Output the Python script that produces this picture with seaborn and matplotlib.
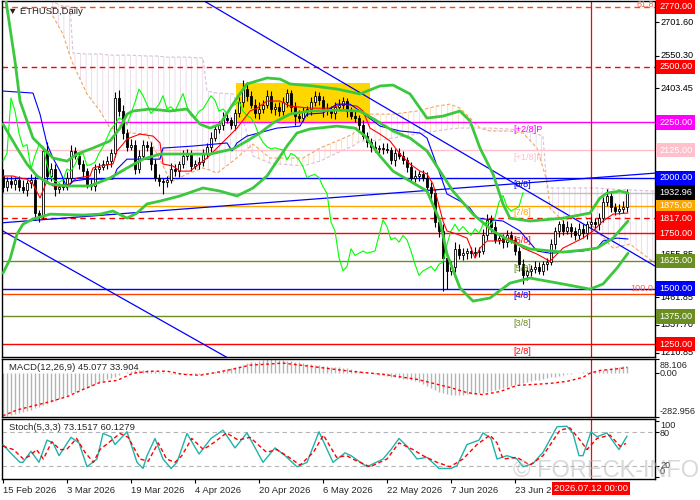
import numpy as np
import pandas as pd
import matplotlib
matplotlib.use('Agg')
import matplotlib.pyplot as plt
import matplotlib.transforms as mtransforms
from matplotlib.patches import Rectangle
import seaborn as sns

sns.set_style('white')
plt.rcParams['font.family'] = ['Liberation Sans', 'DejaVu Sans']
plt.rcParams['hatch.linewidth'] = 0.5

# ---- price data (daily ETHUSD, day 0 = 15 Feb 2026) ----
start_date = pd.Timestamp('2026-02-15')
first_open = 2010
closes = [1960, 1985, 1970, 1990, 1960, 1945, 1975, 1990, 1840, 1830,
          2120, 2010, 2040, 1950, 1960, 1970, 2000, 2120, 2100, 2060,
          2030, 1970, 1965, 2040, 2050, 2060, 2075, 2110, 2360, 2300,
          2200, 2140, 2150, 2040, 2100, 2150, 2140, 2060, 2000, 1985,
          1980, 1990, 2040, 2030, 2060, 2100, 2110, 2055, 2060, 2070,
          2110, 2140, 2180, 2220, 2240, 2270, 2260, 2240, 2290, 2340,
          2400, 2370, 2330, 2290, 2310, 2330, 2370, 2310, 2320, 2300,
          2340, 2380, 2320, 2280, 2270, 2300, 2310, 2340, 2370, 2350,
          2300, 2310, 2290, 2320, 2330, 2345, 2300, 2280, 2270, 2240,
          2190, 2160, 2140, 2130, 2135, 2130, 2125, 2080, 2110, 2100,
          2080, 2050, 2000, 2010, 2015, 2000, 1960, 1930, 1800, 1760,
          1640, 1580, 1600, 1680, 1650, 1660, 1670, 1660, 1665, 1670,
          1740, 1810, 1780, 1720, 1730, 1710, 1740, 1720, 1670, 1610,
          1560, 1580, 1590, 1600, 1580, 1610, 1620, 1700, 1760, 1790,
          1760, 1780, 1760, 1740, 1770, 1750, 1790, 1800, 1790, 1820,
          1890, 1920, 1870, 1850, 1860, 1870, 1933]
wick_up = [30, 20, 25, 15, 20, 30, 15, 25, 20, 15,
           20, 40, 25, 20, 15, 20, 25, 30, 20, 15,
           20, 15, 25, 20, 15, 20, 25, 20, 25, 35,
           30, 20, 25, 20, 25, 20, 15, 20, 25, 15,
           15, 20, 25, 20, 15, 25, 20, 15, 20, 25,
           20, 15, 25, 20, 15, 25, 20, 15, 20, 25,
           40, 30, 20, 25, 30, 20, 25, 20, 15, 20,
           25, 20, 15, 20, 25, 20, 15, 25, 20, 15,
           20, 25, 15, 20, 25, 20, 15, 20, 25, 15,
           20, 15, 20, 25, 15, 20, 25, 15, 20, 25,
           20, 15, 20, 25, 15, 20, 25, 20, 20, 15,
           30, 20, 25, 30, 20, 25, 15, 20, 25, 20,
           30, 25, 20, 25, 20, 15, 25, 20, 15, 20,
           25, 20, 15, 25, 20, 15, 20, 25, 20, 15,
           20, 25, 15, 20, 25, 20, 15, 25, 20, 20,
           25, 30, 20, 15, 20, 25, 15]
wick_dn = [25, 20, 15, 25, 20, 15, 25, 20, 30, 30,
           15, 20, 25, 30, 20, 15, 25, 20, 15, 20,
           25, 15, 20, 25, 20, 15, 20, 25, 15, 20,
           25, 20, 15, 25, 20, 15, 20, 25, 15, 20,
           55, 20, 15, 20, 25, 15, 20, 25, 15, 20,
           15, 20, 25, 15, 20, 25, 15, 20, 25, 15,
           20, 25, 15, 20, 25, 20, 15, 20, 25, 20,
           15, 20, 25, 40, 20, 15, 20, 25, 15, 20,
           25, 15, 20, 25, 15, 20, 25, 15, 20, 25,
           15, 20, 25, 15, 20, 25, 15, 20, 25, 15,
           20, 25, 15, 20, 25, 15, 20, 25, 20, 25,
           150, 80, 20, 25, 15, 20, 25, 20, 15, 20,
           15, 20, 25, 15, 20, 25, 20, 15, 20, 30,
           40, 20, 25, 20, 15, 20, 25, 15, 20, 25,
           20, 15, 25, 20, 15, 20, 25, 15, 20, 25,
           20, 15, 25, 20, 15, 20, 25]

# ---- Bollinger bands (day, price) ----
bb_up_days = [0, 3, 4.25, 7.5, 10, 12.5, 16, 18.5, 22.5, 26.75, 29.25, 31, 32.5, 36.75, 41.75,
              46, 49.25, 51.75, 54.25, 58.5, 61, 66, 69.25, 71.75, 77.5, 83.5, 89.25, 94.25,
              97.5, 101.75, 106, 110, 114.25, 116.75, 119.25, 122.5, 125, 126.75, 131.75, 140,
              146.75, 149.25, 151, 154.25, 156.25]
bb_up = [2887, 2526, 2346, 2179, 2134, 2089, 2075, 2107, 2134, 2166, 2224, 2287, 2301, 2310, 2301,
         2310, 2242, 2224, 2242, 2360, 2423, 2450, 2445, 2423, 2414, 2400, 2378, 2414,
         2418, 2378, 2269, 2278, 2301, 2256, 2134, 2017, 1882, 1818, 1805, 1818,
         1841, 1909, 1931, 1940, 1931]
bb_mid_days = [0, 3.5, 6, 8.5, 11.75, 16, 21.75, 26.75, 31, 35, 39.25, 44.25, 51.75, 57.5, 61,
               64.25, 67.5, 71.75, 76.75, 83.5, 89.25, 93.5, 97.5, 101.75, 106, 109.25, 112.5,
               117.5, 122.5, 126.75, 131.75, 140, 145, 148.5, 152.5, 156.25]
bb_mid = [2242, 2134, 2062, 2008, 1972, 1963, 1963, 1999, 2044, 2084, 2107, 2107, 2107, 2130, 2166,
          2202, 2247, 2287, 2301, 2305, 2301, 2256, 2211, 2179, 2121, 2030, 1940,
          1836, 1760, 1715, 1679, 1665, 1674, 1683, 1728, 1805]
bb_lo_days = [0, 1.75, 3.5, 5, 7.5, 11.75, 20, 24.25, 27.5, 31, 33.5, 36, 39.25, 44.25, 50,
              54.25, 58.5, 62.5, 66, 68.5, 71, 73.5, 76.75, 83.5, 88, 90.5, 94.25, 97.5, 101.75,
              106, 109.25, 111, 114.25, 117.5, 121.75, 126.75, 131.75, 140, 146.75, 150, 153.5, 156.25]
bb_lo = [1570, 1633, 1746, 1791, 1814, 1836, 1832, 1836, 1850, 1818, 1841, 1882, 1895, 1918, 1954,
         1940, 1918, 1954, 2008, 2075, 2143, 2202, 2220, 2233, 2224, 2188, 2098, 2030, 1985,
         1940, 1805, 1656, 1503, 1444, 1458, 1525, 1548, 1521, 1498, 1521, 1593, 1660]

# ---- Ichimoku ----
tenkan_days = [0, 2.5, 4.25, 6, 7.5, 9.25, 11, 12.5, 16, 18.5, 21.75, 22.5, 24.25, 27.5, 28.5,
               30, 31, 34.25, 37.5, 39.25, 40, 42.5, 44.25, 46.75, 51, 53.5, 56, 58.5, 61.75, 63.5,
               66, 69.25, 71.75, 76.75, 81.75, 85, 88.5, 90, 91.75, 94.25, 96.75, 99.25, 101.75,
               104.25, 106, 107.5, 108.5, 110, 111, 113.5, 116, 118, 119.25, 121, 124.25, 126.75,
               130, 133.5, 136.75, 140, 145, 147.5, 150, 152.5, 156.25]
tenkan = [2008, 2008, 1999, 1994, 1972, 1909, 1985, 1963, 1963, 1999, 2008, 2044, 2053, 2062, 2121,
          2152, 2175, 2197, 2188, 2157, 2062, 2053, 2030, 2030, 2089, 2134, 2179, 2224, 2301, 2314,
          2346, 2346, 2323, 2314, 2314, 2332, 2323, 2301, 2224, 2197, 2166, 2107, 2062,
          2030, 2017, 1972, 1909, 1805, 1760, 1746, 1728, 1638, 1683, 1715, 1715, 1728,
          1683, 1656, 1624, 1683, 1728, 1760, 1805, 1836, 1841]
kijun_days = [0, 7.5, 9.25, 11, 12.5, 14.25, 16, 17.5, 21, 27.5, 28.5, 31, 39.25, 40, 47.5, 56,
              57.25, 58.5, 61, 68.5, 74.25, 76, 80, 83.5, 86.75, 89.25, 94.25, 99.25, 104.25, 106,
              109.25, 111, 114.25, 116.75, 118.5, 125, 129.25, 133.5, 136.75, 145, 148.5, 150,
              153.5, 156.25]
kijun = [2391, 2382, 2287, 2152, 2089, 2030, 1954, 1985, 1994, 1994, 2039, 2084, 2084, 2134, 2143, 2157,
         2121, 2157, 2188, 2224, 2233, 2287, 2292, 2332, 2332, 2301, 2233, 2211, 2202, 2179,
         2017, 1927, 1895, 1863, 1818, 1805, 1760, 1670, 1660, 1670, 1683, 1715,
         1728, 1724]
chikou_shift = 26
kumo_days = [11.75, 15, 16.75, 17.5, 21, 24.25, 26.75, 31.75, 36, 38.5, 41, 42.5, 46, 50, 51, 53.5,
             57.5, 60.5, 62.5, 66.75, 75, 79.25, 83.5, 87.5, 89.25, 91.75, 97.5, 103.5, 108.5,
             111.75, 114.25, 116.75, 119.25, 121.75, 126.75, 130, 133.5, 135, 136, 136.75, 140,
             145, 148.5, 152.5, 156.75, 163]
kumo_a = [2752, 2648, 2549, 2513, 2378, 2301, 2224, 2202, 2197, 2107, 2017, 1985, 2017, 2044, 2039, 2021,
          2075, 2121, 2152, 2089, 2089, 2134, 2166, 2197, 2256, 2287, 2287, 2301, 2323,
          2332, 2314, 2269, 2224, 2211, 2211, 2202, 2134, 2044, 1985, 1863, 1805,
          1836, 1760, 1683, 1701, 1615]
kumo_b = [2797, 2774, 2774, 2562, 2558, 2558, 2553, 2553, 2549, 2549, 2544, 2544, 2544, 2540, 2391, 2382,
          2378, 2233, 2098, 2066, 2053, 2075, 2112, 2143, 2166, 2166, 2179, 2197, 2211,
          2220, 2224, 2224, 2224, 2224, 2220, 2211, 2197, 2188, 1954, 1954, 1954,
          1954, 1954, 1949, 1945, 1940]

# ---- trend lines, consolidation box, levels ----
trend_down_days = [50, 163]
trend_down = [2800, 1602]
trend_low_days = [-1, 56]
trend_low = [1770, 1190]
trend_up_days = [-1, 163]
trend_up = [1796, 2021]
box_days = [58.25, 91.75]
box_prices = [2247, 2427]
levels = [2770, 2500, 2250, 2125, 2000, 1875, 1817, 1750, 1625, 1500, 1375, 1250]
fib_100 = 1476
last_price = 1932.96
murrey_levels = [2250, 2125, 2000, 1875, 1750, 1625, 1500, 1375, 1250]
murrey_names = ['[+2/8]P', '[+1/8]P', '[8/8]', '[7/8]', '[6/8]', '[5/8]', '[4/8]', '[3/8]', '[2/8]']
axis_ticks = [2701.60, 2550.30, 2403.45, 2254.40, 2105.30, 1954.80, 1807.15, 1655.85,
              1461.85, 1337.70, 1210.85]

# ---- MACD ----
macd_hist = [-280, -275, -270, -265, -260, -252, -244, -236, -226, -216,
             -207, -198, -190, -178, -166, -153, -140, -131, -122, -113,
             -105, -95, -82, -70, -60, -50, -41, -33, -25, -14,
             -4, 5, 12, 17, 20, 18, 15, 14, 12, 8,
             3, -3, -6, -8, -10, -9, -8, -7, -9, -10,
             -8, -5, 0, 6, 12, 18, 24, 30, 37, 44,
             52, 60, 66, 72, 77, 81, 85, 88, 86, 84,
             82, 78, 75, 70, 66, 62, 58, 55, 51, 48,
             45, 42, 40, 37, 34, 31, 28, 24, 19, 14,
             8, 2, -4, -9, -13, -17, -21, -25, -29, -33,
             -38, -42, -47, -55, -62, -72, -85, -98, -110, -120,
             -130, -137, -141, -143, -143, -141, -139, -136, -133, -130,
             -127, -122, -118, -113, -107, -100, -92, -85, -77, -70,
             -63, -57, -53, -49, -44, -38, -33, -28, -24, -20,
             -15, -10, -6, -3, 0, 3, 6, 9, 12, 15,
             20, 25, 30, 34, 38, 42, 45]
sig_days = [0, 3.5, 7.5, 11.75, 16, 20, 24.25, 28.5, 32.5, 36.75, 41, 45, 49.25, 53.5, 57.5,
            61.75, 66, 70, 74.25, 78.5, 86.75, 95, 103.5, 111.75, 116, 120, 124.25, 128.5,
            132.5, 136.75, 141, 145, 146.75, 149.25, 153.5, 156]
macd_sig = [-275, -238, -212, -185, -153, -107, -62, -49, -3, 10, 10, -10, -16, 3, 23,
            49, 55, 62, 49, 36, 10, -10, -42, -94, -127, -140, -120, -81,
            -75, -68, -55, -29, -3, 15, 25, 33.9]

# ---- Stochastic ----
k_days = [0, 1.75, 4.25, 5, 7, 9, 11, 12.5, 14, 17, 19, 21, 23.5, 25, 27, 28, 31, 33.5, 35, 36,
          38, 40, 42, 43.5, 46, 49, 52, 55, 58, 61, 65, 68, 70.5, 73.5, 76, 79, 82.5, 85.5, 87,
          91, 95, 97, 99, 101, 103.5, 106, 109, 112, 113.5, 116, 119, 120, 122, 123.5, 126,
          128.5, 130, 132.5, 135, 138.5, 141, 142.5, 144, 145, 147, 148.5, 151, 154, 156]
stoch_k = [58, 44, 26, 26, 46, 26, 66, 61, 38, 71, 61, 18, 32, 78, 72, 58, 81, 26, 15, 38,
           69, 32, 15, 26, 78, 41, 69, 84, 52, 79, 26, 52, 38, 18, 26, 81, 26, 43, 38,
           18, 32, 49, 69, 55, 32, 35, 15, 15, 20, 58, 66, 79, 69, 32, 38,
           32, 18, 24, 44, 90, 91, 78, 38, 38, 81, 72, 79, 49, 73.15]
d_days = [0, 2.6, 5.1, 6.75, 8.4, 10.1, 12.2, 14.25, 15.9, 18.4, 20.5, 22.6, 24.25, 27.2, 29.25,
          31.3, 34.25, 36.3, 38.8, 40.9, 43, 44.7, 47.2, 50.1, 52.6, 55.9, 58.8, 61.75, 65.9,
          68.4, 70.9, 74.25, 77.6, 80.1, 83.4, 85.9, 88, 91.75, 96, 99, 102.5, 105, 108.5,
          111.75, 115, 118.5, 121.75, 123.5, 125, 128.5, 131.75, 135, 139.25, 141.75, 144.25,
          146, 148.5, 151.75, 154.25, 155.75]
stoch_d = [55, 49, 32, 38, 49, 32, 63, 49, 49, 69, 44, 26, 49, 66, 78,
           71, 32, 28, 61, 32, 26, 38, 69, 49, 61, 79, 66, 71, 44,
           49, 38, 21, 44, 75, 35, 38, 30, 18, 32, 61, 49, 38, 26,
           18, 32, 58, 75, 61, 32, 35, 21, 38, 84, 88, 66,
           49, 69, 75, 55, 60.13]

date_ticks = ['2026-02-15', '2026-03-03', '2026-03-19', '2026-04-04', '2026-04-20',
              '2026-05-06', '2026-05-22', '2026-06-07', '2026-06-23']
cursor_date = '2026-07-12'

# ---- figure layout (pixel boxes like the terminal window) ----
W, H = 700, 500
fig = plt.figure(figsize=(7, 5), dpi=100)


def px_axes(x0, y0, x1, y1):
    return fig.add_axes([x0 / W, 1 - y1 / H, (x1 - x0) / W, (y1 - y0) / H])


ax = px_axes(2, 1, 655, 357)
ax_macd = px_axes(2, 359, 655, 417)
ax_st = px_axes(2, 419, 655, 479)
for a in (ax, ax_macd, ax_st):
    a.set_xlim(-0.25, 163)
    for s in a.spines.values():
        s.set_color('black')
        s.set_linewidth(1)
    a.tick_params(axis='y', left=False, right=True, labelleft=False, labelright=False,
                  direction='out', length=3, width=0.8, color='black')
    a.tick_params(axis='x', bottom=False, labelbottom=False)
ax.set_ylim(1192, 2797)
ax_macd.set_ylim(-282.956, 88.106)
ax_st.set_ylim(-4, 104)

days = np.arange(len(closes))
cl = np.array(closes, dtype=float)
op = np.r_[first_open, cl[:-1]]
hi = np.maximum(op, cl) + np.array(wick_up)
lo = np.minimum(op, cl) - np.array(wick_dn)
bull = cl >= op
cursor_day = (pd.Timestamp(cursor_date) - start_date).days

# background pieces
ax.add_patch(Rectangle((box_days[0], box_prices[0]), box_days[1] - box_days[0],
                       box_prices[1] - box_prices[0], fc='#ffd700', ec='none', zorder=1.6))
kx = np.array(kumo_days)
ka = np.array(kumo_a, dtype=float)
kb = np.array(kumo_b, dtype=float)
ax.fill_between(kx, ka, kb, where=kb >= ka, interpolate=True, facecolor='none',
                edgecolor='#e4cfe4', hatch='|||', linewidth=0, zorder=1.2)
ax.fill_between(kx, ka, kb, where=ka > kb, interpolate=True, facecolor='none',
                edgecolor='#f7d2b4', hatch='|||', linewidth=0, zorder=1.2)
sns.lineplot(x=kx, y=ka, ax=ax, color='#f4a460', lw=0.8, linestyle=(0, (3, 2)), zorder=1.3)
sns.lineplot(x=kx, y=kb, ax=ax, color='#d8bfd8', lw=0.8, linestyle=(0, (3, 2)), zorder=1.3)

# horizontal levels
level_style = {2770: ('#ff4500', '--', '#ff0000'), 2500: ('#ff0000', '--', '#ff0000'),
               2250: ('#ff00ff', '-', '#ff00ff'), 2125: ('#ffc0cb', '-', '#ffc0cb'),
               2000: ('#0000ff', '-', '#0000ff'), 1875: ('#ffa500', '-', '#ffa500'),
               1817: ('#ff0000', '--', '#ff0000'), 1750: ('#ff0000', '-', '#ff0000'),
               1625: ('#6b8e23', '-', '#6b8e23'), 1500: ('#0000ff', '-', '#0000ff'),
               1375: ('#6b8e23', '-', '#6b8e23'), 1250: ('#ff0000', '-', '#ff0000')}
for lv in levels:
    c, ls, _ = level_style[lv]
    ax.axhline(lv, color=c, lw=1, linestyle=(0, (4, 3)) if ls == '--' else '-', zorder=2)
ax.axhline(fib_100, color='#ff4500', lw=1, zorder=2)
ax.axhline(last_price, color='#c0c0c0', lw=1, zorder=2)
ax.axvline(cursor_day, color='#ff0000', lw=0.9, zorder=2.1)

# trend lines
for tx, ty in ((trend_down_days, trend_down), (trend_low_days, trend_low), (trend_up_days, trend_up)):
    sns.lineplot(x=tx, y=ty, ax=ax, color='#0000ff', lw=0.9, zorder=2.2)

# candles
ax.vlines(days, lo, hi, color='black', lw=0.8, zorder=3)
ax.bar(days, np.maximum(np.abs(cl - op), 4), bottom=np.minimum(op, cl), width=0.72,
       color=np.where(bull, 'white', 'black'), edgecolor='black', linewidth=0.6, zorder=3.1)

# ichimoku lines and bollinger bands
sns.lineplot(x=days[:-chikou_shift], y=cl[chikou_shift:], ax=ax, color='#00ff00', lw=0.8, zorder=3.5)
sns.lineplot(x=tenkan_days, y=tenkan, ax=ax, color='#ff0000', lw=0.8, zorder=3.6)
sns.lineplot(x=kijun_days, y=kijun, ax=ax, color='#0000ff', lw=0.8, zorder=3.6)
for bx, by in ((bb_up_days, bb_up), (bb_mid_days, bb_mid), (bb_lo_days, bb_lo)):
    sns.lineplot(x=bx, y=by, ax=ax, color='#3cc83c', lw=2.0, zorder=4)

# level texts
for lv, name in zip(murrey_levels, murrey_names):
    ax.text(127.5, lv - 12, name, color=level_style[lv][2], fontsize=6.6, va='top', ha='left', zorder=5)
ax.text(158.3, 2781, '61.8', color='#ff6347', fontsize=6.4, va='center', ha='left', zorder=5)
ax.text(156.8, fib_100 + 3, '100.0', color='#ff6347', fontsize=6.6, va='bottom', ha='left', zorder=5)
ax.text(6 / 653, 1 - 10 / 356, '\u25bc ETHUSD,Daily', transform=ax.transAxes, fontsize=6.8,
        va='center', ha='left', color='#222222', zorder=6)

# right price scale
tr = mtransforms.blended_transform_factory(ax.transAxes, ax.transData)
ax.set_yticks(axis_ticks)
for t in axis_ticks:
    ax.text(1 + 5 / 653, t, f'{t:.2f}', transform=tr, fontsize=6.6, va='center', ha='left',
            color='black', clip_on=False, zorder=6)
for lv in levels:
    ax.text(1 + 4 / 653, lv, f'{lv:.2f}', transform=tr, fontsize=6.6, va='center', ha='left',
            color='white', clip_on=False, zorder=7,
            bbox=dict(boxstyle='square,pad=0.3', fc=level_style[lv][2], ec='none'))
ax.text(1 + 4 / 653, last_price, f'{last_price:.2f}', transform=tr, fontsize=6.6, va='center',
        ha='left', color='white', clip_on=False, zorder=7,
        bbox=dict(boxstyle='square,pad=0.3', fc='black', ec='none'))

# MACD panel
ax_macd.vlines(days, 0, macd_hist, color='#b4b4b4', lw=1, zorder=2)
sns.lineplot(x=sig_days, y=macd_sig, ax=ax_macd, color='#ff0000', lw=1, linestyle=(0, (2, 2)), zorder=3)
ax_macd.axvline(cursor_day, color='#ff0000', lw=0.9, zorder=2.1)
ax_macd.text(7 / 653, 1 - 9 / 58, 'MACD(12,26,9) 45.077 33.904', transform=ax_macd.transAxes,
             fontsize=6.8, va='center', ha='left')
ax_macd.set_yticks([88.106, 0, -282.956])
for txt, ypx in (('88.106', 7), ('0.00', 15), ('-282.956', 52)):
    ax_macd.text(1 + 5 / 653, 1 - ypx / 58, txt, transform=ax_macd.transAxes, fontsize=6.6,
                 va='center', ha='left', clip_on=False)

# Stochastic panel
for lvl in (80, 20):
    ax_st.axhline(lvl, color='#b4b4b4', lw=0.8, linestyle=(0, (4, 3)), zorder=1)
sns.lineplot(x=k_days, y=stoch_k, ax=ax_st, color='#20b2aa', lw=1, zorder=3)
sns.lineplot(x=d_days, y=stoch_d, ax=ax_st, color='#ff0000', lw=1, linestyle=(0, (3, 2)), zorder=3)
ax_st.axvline(cursor_day, color='#ff0000', lw=0.9, zorder=2.1)
ax_st.text(7 / 653, 1 - 9 / 60, 'Stoch(5,3,3) 73.1517 60.1279', transform=ax_st.transAxes,
           fontsize=6.8, va='center', ha='left')
ax_st.set_yticks([100, 80, 20, 0])
for txt, ypx in (('100', 7), ('80', 14), ('20', 47), ('0', 53)):
    ax_st.text(1 + 5 / 653, 1 - ypx / 60, txt, transform=ax_st.transAxes, fontsize=6.6,
               va='center', ha='left', clip_on=False)

# date axis
tick_dates = [pd.Timestamp(d) for d in date_ticks]
ax_st.set_xticks([(d - start_date).days for d in tick_dates])
ax_st.set_xticklabels([f"{d.day} {d.strftime('%b %Y')}" for d in tick_dates], ha='left')
ax_st.tick_params(axis='x', bottom=True, labelbottom=True, direction='out', length=3,
                  width=0.8, pad=2, labelsize=6.8, color='black')
trx = mtransforms.blended_transform_factory(ax_st.transData, ax_st.transAxes)
ax_st.text(cursor_day, -0.16, pd.Timestamp(cursor_date).strftime('%Y.%m.%d %H:%M'), transform=trx,
           fontsize=6.8, color='white', ha='center', va='center', clip_on=False, zorder=10,
           bbox=dict(boxstyle='square,pad=0.25', fc='#ff0000', ec='none'))

fig.text(513 / W, 1 - 471 / H, '\u00a9 FORECK-INFO', fontsize=17, color='#b8b8b8', alpha=0.55,
         va='center', ha='left', zorder=20)

fig.savefig('out.png', dpi=100)
